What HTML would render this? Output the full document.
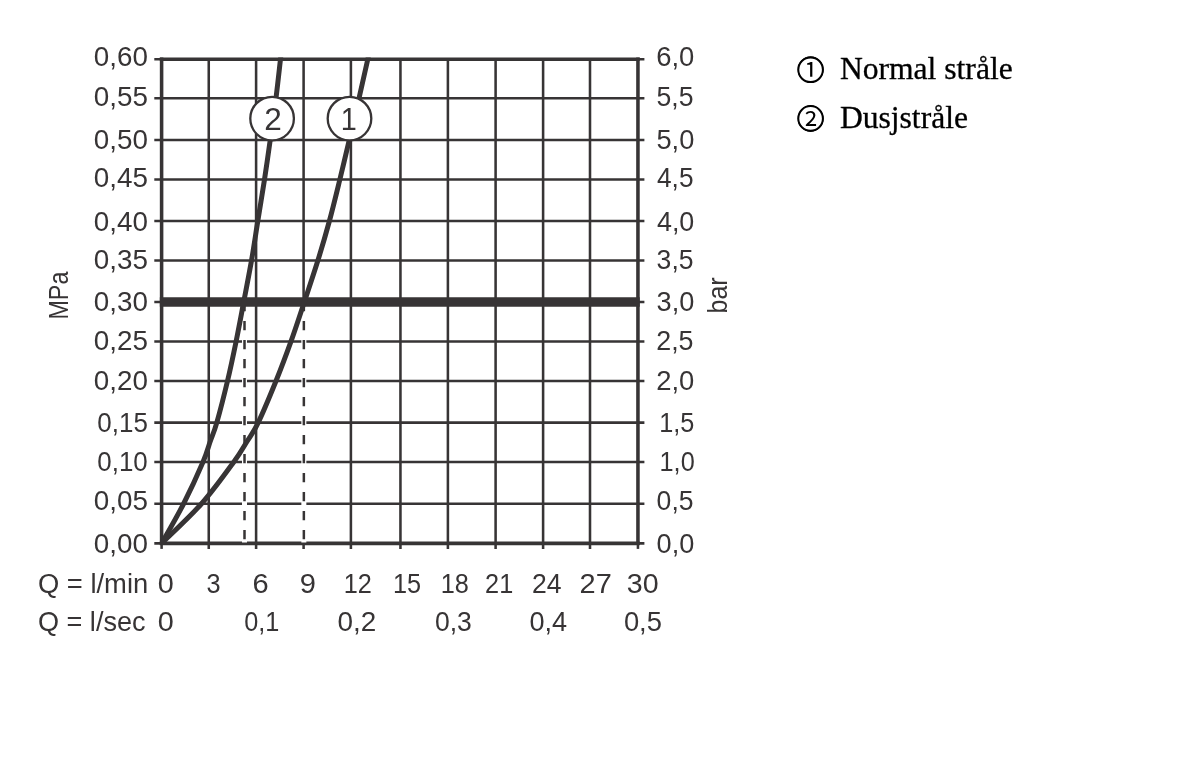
<!DOCTYPE html>
<html lang="no"><head><meta charset="utf-8"><title>Gjennomstrømningsdiagram</title>
<style>html,body{margin:0;padding:0;background:#fff;}body{width:1200px;height:765px;overflow:hidden;}svg{display:block;}.c{font-family:"Liberation Sans",sans-serif;font-size:27.2px;fill:#373435;}.t{font-family:"Liberation Serif",serif;font-size:31.6px;fill:#000;}.t{stroke:#000;stroke-width:0.3px;}.n{font-family:"Liberation Sans","Noto Sans CJK SC","Noto Sans CJK JP","DejaVu Sans",sans-serif;font-size:27.8px;fill:#000;}</style></head><body>
<svg width="1200" height="765" viewBox="0 0 1200 765">
<rect width="1200" height="765" fill="#fff"/>
<g stroke="#373435" fill="none" stroke-linecap="butt">
<line x1="161.60" y1="57.43" x2="161.60" y2="545.12" stroke-width="3.55"/>
<line x1="161.60" y1="543.35" x2="161.60" y2="548.90" stroke-width="2.55"/>
<line x1="208.75" y1="59.20" x2="208.75" y2="548.90" stroke-width="2.55"/>
<line x1="256.10" y1="59.20" x2="256.10" y2="548.90" stroke-width="2.55"/>
<line x1="303.60" y1="59.20" x2="303.60" y2="548.90" stroke-width="2.55"/>
<line x1="350.90" y1="59.20" x2="350.90" y2="548.90" stroke-width="2.55"/>
<line x1="400.45" y1="59.20" x2="400.45" y2="548.90" stroke-width="2.55"/>
<line x1="447.90" y1="59.20" x2="447.90" y2="548.90" stroke-width="2.55"/>
<line x1="495.60" y1="59.20" x2="495.60" y2="548.90" stroke-width="2.55"/>
<line x1="543.10" y1="59.20" x2="543.10" y2="548.90" stroke-width="2.55"/>
<line x1="590.00" y1="59.20" x2="590.00" y2="548.90" stroke-width="2.55"/>
<line x1="637.95" y1="57.43" x2="637.95" y2="545.12" stroke-width="3.55"/>
<line x1="637.95" y1="543.35" x2="637.95" y2="548.90" stroke-width="2.55"/>
<line x1="159.82" y1="59.20" x2="639.73" y2="59.20" stroke-width="3.55"/>
<line x1="154.30" y1="59.20" x2="644.40" y2="59.20" stroke-width="2.55"/>
<line x1="154.30" y1="98.30" x2="644.40" y2="98.30" stroke-width="2.55"/>
<line x1="154.30" y1="140.00" x2="644.40" y2="140.00" stroke-width="2.55"/>
<line x1="154.30" y1="179.50" x2="644.40" y2="179.50" stroke-width="2.55"/>
<line x1="154.30" y1="221.00" x2="644.40" y2="221.00" stroke-width="2.55"/>
<line x1="154.30" y1="260.40" x2="644.40" y2="260.40" stroke-width="2.55"/>
<line x1="154.30" y1="301.90" x2="644.40" y2="301.90" stroke-width="2.55"/>
<line x1="154.30" y1="341.40" x2="644.40" y2="341.40" stroke-width="2.55"/>
<line x1="154.30" y1="380.90" x2="644.40" y2="380.90" stroke-width="2.55"/>
<line x1="154.30" y1="422.60" x2="644.40" y2="422.60" stroke-width="2.55"/>
<line x1="154.30" y1="461.90" x2="644.40" y2="461.90" stroke-width="2.55"/>
<line x1="154.30" y1="503.70" x2="644.40" y2="503.70" stroke-width="2.55"/>
<line x1="159.82" y1="543.35" x2="639.73" y2="543.35" stroke-width="3.55"/>
<line x1="154.30" y1="543.35" x2="644.40" y2="543.35" stroke-width="2.55"/>
</g>
<line x1="244.50" y1="302.00" x2="244.50" y2="542.60" stroke="#fff" stroke-width="5"/>
<line x1="244.50" y1="302.00" x2="244.50" y2="539.20" stroke="#373435" stroke-width="2.5" stroke-dasharray="9.2 9.8"/>
<line x1="303.85" y1="302.00" x2="303.85" y2="542.60" stroke="#fff" stroke-width="5"/>
<line x1="303.85" y1="302.00" x2="303.85" y2="539.20" stroke="#373435" stroke-width="2.5" stroke-dasharray="9.2 9.8"/>
<line x1="159.82" y1="302.10" x2="639.73" y2="302.10" stroke="#373435" stroke-width="9.5"/>
<clipPath id="plot"><rect x="159.82" y="57.43" width="479.90" height="487.70"/></clipPath>
<g clip-path="url(#plot)" stroke="#373435" fill="none" stroke-width="5" stroke-linejoin="round">
<path d="M161.70 543.30 C165.35 536.71 176.72 517.30 183.60 503.75 C190.48 490.20 198.57 472.38 203.00 462.00 C207.43 451.62 207.90 448.07 210.20 441.50 C212.50 434.93 213.92 432.68 216.80 422.60 C219.68 412.52 224.28 394.53 227.50 381.00 C230.72 367.47 233.40 354.57 236.10 341.40 C238.80 328.23 241.12 315.52 243.70 302.00 C246.27 288.48 249.20 273.80 251.55 260.30 C253.90 246.80 255.64 234.47 257.80 221.00 C259.96 207.53 262.47 192.75 264.50 179.50 C266.53 166.25 268.08 155.08 270.00 141.50 C271.92 127.92 274.25 111.75 276.00 98.00 C277.75 84.25 279.40 68.67 280.50 59.00 C281.60 49.33 282.25 43.17 282.60 40.00"/>
<path d="M161.70 543.30 C168.33 536.71 189.48 517.30 201.50 503.75 C213.52 490.20 226.22 472.38 233.80 462.00 C241.38 451.62 242.93 448.07 247.00 441.50 C251.07 434.93 253.37 432.68 258.20 422.60 C263.03 412.52 270.53 394.53 276.00 381.00 C281.47 367.47 286.28 354.57 291.00 341.40 C295.72 328.23 299.81 315.52 304.30 302.00 C308.79 288.48 313.77 273.80 317.95 260.30 C322.13 246.80 325.75 234.47 329.40 221.00 C333.05 207.53 336.60 192.75 339.85 179.50 C343.10 166.25 345.66 155.25 348.90 141.50 C352.14 127.75 356.22 110.42 359.30 97.00 C362.38 83.58 365.28 70.50 367.40 61.00 C369.52 51.50 371.23 43.50 372.00 40.00"/>
</g>
<circle cx="272.10" cy="118.6" r="21.8" fill="#fff" stroke="#373435" stroke-width="2.3"/>
<text class="c" style="font-size:31px" transform="translate(264.17 129.70) scale(1.0175 1.0000)">2</text>
<circle cx="349.50" cy="118.6" r="21.8" fill="#fff" stroke="#373435" stroke-width="2.3"/>
<text class="c" style="font-size:31px" transform="translate(340.72 129.70) scale(0.9300 1.0000)">1</text>
<text class="c" transform="translate(93.78 66.00) scale(1.0216 1.0000)">0,60</text>
<text class="c" transform="translate(93.78 106.20) scale(1.0241 1.0000)">0,55</text>
<text class="c" transform="translate(93.78 149.10) scale(1.0216 1.0000)">0,50</text>
<text class="c" transform="translate(93.78 187.45) scale(1.0241 1.0000)">0,45</text>
<text class="c" transform="translate(93.78 231.25) scale(1.0216 1.0000)">0,40</text>
<text class="c" transform="translate(93.78 268.70) scale(1.0241 1.0000)">0,35</text>
<text class="c" transform="translate(93.78 311.25) scale(1.0216 1.0000)">0,30</text>
<text class="c" transform="translate(93.78 349.75) scale(1.0241 1.0000)">0,25</text>
<text class="c" transform="translate(93.78 390.40) scale(1.0216 1.0000)">0,20</text>
<text class="c" transform="translate(97.34 431.90) scale(0.9553 1.0000)">0,15</text>
<text class="c" transform="translate(97.35 470.55) scale(0.9529 1.0000)">0,10</text>
<text class="c" transform="translate(93.78 510.35) scale(1.0241 1.0000)">0,05</text>
<text class="c" transform="translate(93.78 552.65) scale(1.0216 1.0000)">0,00</text>
<text class="c" transform="translate(656.21 66.00) scale(1.0085 1.0000)">6,0</text>
<text class="c" transform="translate(656.50 106.20) scale(0.9796 1.0000)">5,5</text>
<text class="c" transform="translate(656.47 149.10) scale(1.0014 1.0000)">5,0</text>
<text class="c" transform="translate(657.00 187.45) scale(0.9661 1.0000)">4,5</text>
<text class="c" transform="translate(656.98 231.25) scale(0.9876 1.0000)">4,0</text>
<text class="c" transform="translate(656.62 268.70) scale(0.9762 1.0000)">3,5</text>
<text class="c" transform="translate(656.60 311.25) scale(0.9979 1.0000)">3,0</text>
<text class="c" transform="translate(656.24 349.75) scale(0.9866 1.0000)">2,5</text>
<text class="c" transform="translate(656.21 390.40) scale(1.0085 1.0000)">2,0</text>
<text class="c" transform="translate(659.17 431.90) scale(0.9300 1.0000)">1,5</text>
<text class="c" transform="translate(659.56 470.55) scale(0.9300 1.0000)">1,0</text>
<text class="c" transform="translate(656.62 510.35) scale(0.9762 1.0000)">0,5</text>
<text class="c" transform="translate(656.60 552.65) scale(0.9979 1.0000)">0,0</text>
<text class="c" transform="translate(157.84 593.10) scale(1.0590 1.0000)">0</text>
<text class="c" transform="translate(206.38 593.10) scale(0.9300 1.0000)">3</text>
<text class="c" transform="translate(252.53 593.10) scale(1.0693 1.0000)">6</text>
<text class="c" transform="translate(299.86 593.10) scale(1.0693 1.0000)">9</text>
<text class="c" transform="translate(343.79 593.10) scale(0.9300 1.0000)">12</text>
<text class="c" transform="translate(392.97 593.10) scale(0.9300 1.0000)">15</text>
<text class="c" transform="translate(440.67 593.10) scale(0.9300 1.0000)">18</text>
<text class="c" transform="translate(485.08 593.10) scale(0.9300 1.0000)">21</text>
<text class="c" transform="translate(531.96 593.10) scale(0.9778 1.0000)">24</text>
<text class="c" transform="translate(579.53 593.10) scale(1.0655 1.0000)">27</text>
<text class="c" transform="translate(626.75 593.10) scale(1.0513 1.0000)">30</text>
<text class="c" transform="translate(157.84 630.90) scale(1.0590 1.0000)">0</text>
<text class="c" transform="translate(244.15 630.90) scale(0.9300 1.0000)">0,1</text>
<text class="c" transform="translate(337.57 630.90) scale(1.0254 1.0000)">0,2</text>
<text class="c" transform="translate(434.92 630.90) scale(0.9762 1.0000)">0,3</text>
<text class="c" transform="translate(529.40 630.90) scale(0.9965 1.0000)">0,4</text>
<text class="c" transform="translate(623.89 630.90) scale(1.0070 1.0000)">0,5</text>
<text class="c" transform="translate(37.94 593.20) scale(1.0070 1.0000)">Q = l/min</text>
<text class="c" transform="translate(37.96 631.00) scale(0.9958 1.0000)">Q = l/sec</text>
<text class="c" transform="translate(67.6 319.6) rotate(-90)" textLength="48" lengthAdjust="spacingAndGlyphs">MPa</text>
<text class="c" transform="translate(726.5 313.4) rotate(-90)" textLength="36" lengthAdjust="spacingAndGlyphs">bar</text>
<text class="n" x="796.7" y="80.10">①</text>
<circle cx="810.6" cy="69.75" r="12.3" fill="none" stroke="#000" stroke-width="2"/>
<text class="t" x="839.9" y="78.90">Normal stråle</text>
<text class="n" x="796.7" y="128.75">②</text>
<circle cx="810.6" cy="118.40" r="12.3" fill="none" stroke="#000" stroke-width="2"/>
<text class="t" x="839.9" y="127.90">Dusjstråle</text>
</svg></body></html>
